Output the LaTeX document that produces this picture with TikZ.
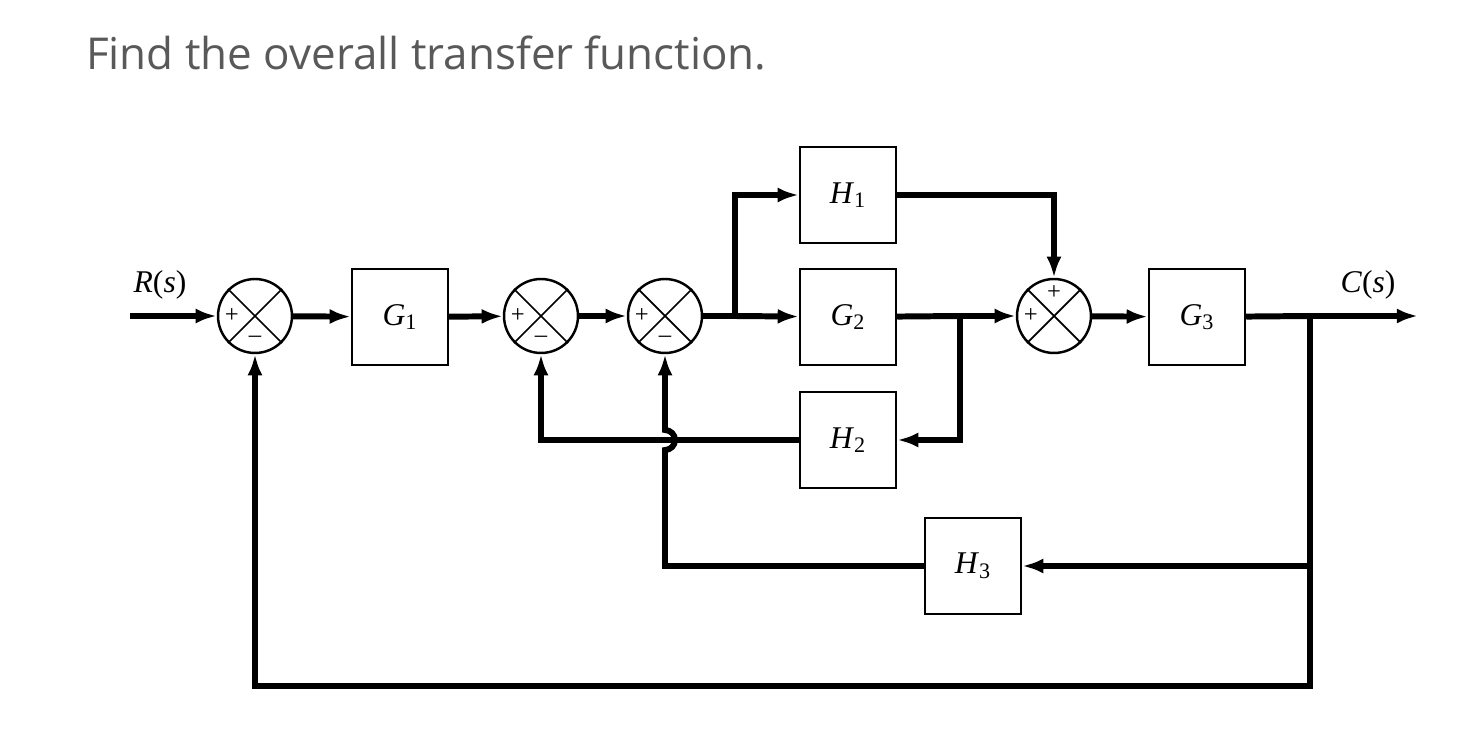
\documentclass[tikz,border=0pt]{standalone}
\usepackage{fontspec}
\setmainfont{Liberation Serif}
\newfontfamily\titlefont{Open Sans}
\usetikzlibrary{arrows.meta,positioning}
\newcommand{\sym}[2]{\textit{#1}\textsubscript{#2}}

\begin{document}
\begin{tikzpicture}[
    x=0.02cm, y=-0.02cm,
    block/.style={rectangle, draw=black, line width=1.4pt, minimum width=1.92cm, minimum height=1.92cm, font=\fontsize{18}{20}\selectfont},
    sum/.style={circle, draw=black, line width=1.4pt, minimum size=1.48cm, inner sep=0pt},
    sig/.style={line width=3.4pt, -{Latex[length=12pt,width=8.5pt]}},
    wire/.style={line width=3.4pt},
    sign/.style={font=\fontsize{14}{14}\selectfont, inner sep=0pt}
]
\useasboundingbox (0,0) rectangle (1468,746);
\node[anchor=base west, font=\titlefont\fontsize{25}{30}\selectfont, text=black!65] (title) at (80,70) {Find the overall transfer function.};

% summing junctions
\node[sum] (s1) at (255,316) {};
\node[sum] (s2) at (541,316) {};
\node[sum] (s3) at (665,316) {};
\node[sum] (s4) at (1054,316) {};
\foreach \s in {s1,s2,s3,s4} {
  \draw[line width=1pt] (\s.north west) -- (\s.south east) (\s.north east) -- (\s.south west);
}
\foreach \s in {s1,s2,s3} {
  \node[sign] at ([xshift=0.3cm]\s.west) {+};
  \node[sign] at ([yshift=0.3cm]\s.south) {--};
}
\node[sign] at ([xshift=0.3cm]s4.west) {+};
\node[sign] at ([yshift=-0.3cm]s4.north) {+};

% blocks
\node[block] (g1) at (400,317) {\sym{G}{1}};
\node[block] (g2) at (848,317) {\sym{G}{2}};
\node[block] (g3) at (1197,317) {\sym{G}{3}};
\node[block] (h1) at (848,195) {\sym{H}{1}};
\node[block] (h2) at (848,440) {\sym{H}{2}};
\node[block] (h3) at (973,566) {\sym{H}{3}};

% branch points
\coordinate (in) at (130,316);
\coordinate (out) at (1418,316);
\coordinate (b1) at (735,316);
\coordinate (b2) at (960,316);
\coordinate (b3) at (1310,316);

\node[font=\fontsize{18}{20}\selectfont] (rlab) at (160,285) {\textit{R}(\textit{s})};
\node[font=\fontsize{18}{20}\selectfont] (clab) at (1368,285) {\textit{C}(\textit{s})};

% forward path
\draw[sig] (in) -- (s1);
\draw[sig] (s1) -- (g1);
\draw[sig] (g1) -- (s2);
\draw[sig] (s2) -- (s3);
\draw[wire] (s3) -- (b1);
\draw[sig] (b1) -- (g2);
\draw[sig] (b1) |- (h1);
\draw[sig] (h1) -| (s4);
\draw[wire] (g2) -- (b2);
\draw[sig] (b2) -- (s4);
\draw[sig] (s4) -- (g3);
\draw[wire] (g3) -- (b3);
\draw[sig] (b3) -- (out);

% feedback paths
\draw[sig] (b2) |- (h2);
\draw[sig] (h2) -| (s2);
\draw[sig] (b3) |- (h3);
\draw[sig] (h3) -| (665,450) arc[start angle=-90, end angle=90, radius=0.2cm] -- (s3);
\draw[sig] (b3) |- (255,686) -- (s1);
\end{tikzpicture}
\end{document}
